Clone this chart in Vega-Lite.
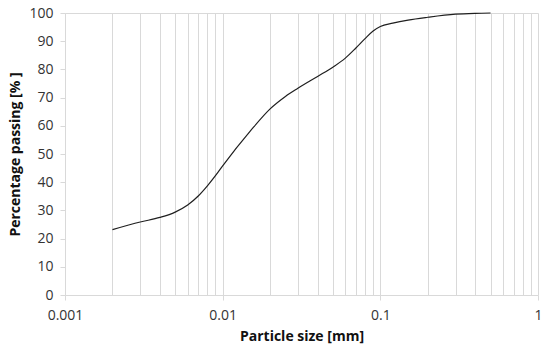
{
  "$schema": "https://vega.github.io/schema/vega-lite/v6.json",
  "width": 473,
  "height": 282,
  "autosize": {"type": "none"},
  "padding": {"left": 65, "top": 13, "right": 12, "bottom": 62},
  "background": "white",
  "config": {"view": {"stroke": null}, "font": "Open Sans"},
  "data": {
    "values": [
      {"size": 0.002, "passing": 23.2},
      {"size": 0.003, "passing": 25.9},
      {"size": 0.004, "passing": 27.5},
      {"size": 0.005, "passing": 29.4},
      {"size": 0.006, "passing": 31.9},
      {"size": 0.007, "passing": 35.1},
      {"size": 0.008, "passing": 38.7},
      {"size": 0.009, "passing": 42.3},
      {"size": 0.01, "passing": 45.8},
      {"size": 0.015, "passing": 58.2},
      {"size": 0.02, "passing": 66.0},
      {"size": 0.025, "passing": 70.4},
      {"size": 0.03, "passing": 73.3},
      {"size": 0.04, "passing": 77.5},
      {"size": 0.05, "passing": 80.8},
      {"size": 0.06, "passing": 84.0},
      {"size": 0.07, "passing": 87.6},
      {"size": 0.08, "passing": 90.9},
      {"size": 0.09, "passing": 93.6},
      {"size": 0.1, "passing": 95.2},
      {"size": 0.12, "passing": 96.4},
      {"size": 0.15, "passing": 97.5},
      {"size": 0.2, "passing": 98.5},
      {"size": 0.3, "passing": 99.6},
      {"size": 0.4, "passing": 99.9},
      {"size": 0.5, "passing": 100}
    ]
  },
  "mark": {"type": "line", "interpolate": "monotone", "color": "#1f1f1f", "strokeWidth": 1.2},
  "encoding": {
    "x": {
      "field": "size",
      "type": "quantitative",
      "scale": {"type": "log", "domain": [0.001, 1], "nice": false},
      "axis": {
        "title": "Particle size [mm]",
        "values": [0.001, 0.002, 0.003, 0.004, 0.005, 0.006, 0.007, 0.008, 0.009, 0.01, 0.02, 0.03, 0.04, 0.05, 0.06, 0.07, 0.08, 0.09, 0.1, 0.2, 0.3, 0.4, 0.5, 0.6, 0.7, 0.8, 0.9, 1],
        "labelExpr": "(datum.value === 0.001 || datum.value === 0.01 || datum.value === 0.1 || datum.value === 1) ? format(datum.value, '~g') : ''",
        "labelOverlap": false,
        "labelFlush": false,
        "grid": true,
        "gridColor": "#d9d9d9",
        "gridWidth": 1,
        "domainColor": "#d9d9d9",
        "tickColor": "#d9d9d9",
        "tickSize": 5,
        "tickOpacity": {"condition": {"test": "datum.value === 0.001 || datum.value === 0.01 || datum.value === 0.1 || datum.value === 1", "value": 1}, "value": 0},
        "labelPadding": 8,
        "labelFontSize": 14,
        "labelColor": "#333333",
        "titleFontSize": 14,
        "titleFontWeight": "bold",
        "titleColor": "#111111",
        "titlePadding": 7
      }
    },
    "y": {
      "field": "passing",
      "type": "quantitative",
      "scale": {"domain": [0, 100], "nice": false},
      "axis": {
        "title": "Percentage passing [% ]",
        "values": [0, 10, 20, 30, 40, 50, 60, 70, 80, 90, 100],
        "grid": true,
        "gridColor": {"condition": {"test": "datum.value === 100", "value": "#d9d9d9"}, "value": "transparent"},
        "domainColor": "#d9d9d9",
        "tickColor": "#d9d9d9",
        "tickSize": 5,
        "labelPadding": 7,
        "labelFontSize": 14,
        "labelColor": "#333333",
        "titleFontSize": 14,
        "titleFontWeight": "bold",
        "titleColor": "#111111",
        "titlePadding": 6
      }
    }
  }
}
